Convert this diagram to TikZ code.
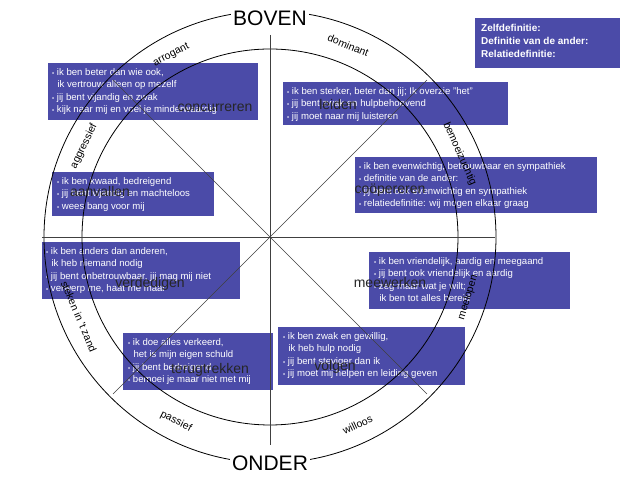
\documentclass[tikz,border=0pt]{standalone}
\usepackage{fontspec}
\setmainfont{Liberation Sans}
\usetikzlibrary{calc}
\newcommand{\bl}{{\fontsize{6}{6}\selectfont\textbullet}}
\begin{document}
\begin{tikzpicture}[x=1pt,y=1pt,
  box/.style={fill=boxblue,draw=none},
  btxt/.style={anchor=north west,text=white,font=\fontsize{9.6}{12.5}\selectfont,align=left,inner sep=0pt},
  inl/.style={text=black!85,font=\fontsize{14}{14}\selectfont,inner sep=0pt},
  arcl/.style={font=\fontsize{10.5}{10.5}\selectfont,inner sep=0pt},
  big/.style={fill=white,font=\fontsize{21}{21}\selectfont,inner sep=2pt}]
\definecolor{boxblue}{HTML}{4B4BA8}
\useasboundingbox (0,0) rectangle (638,478);
\coordinate (C) at (270,241);
% boxes
\fill[box] (48,415) rectangle (258,358);
\node[btxt] (b1) at (52,410) {\bl\ ik ben beter dan wie ook,\\\ \ ik vertrouw alleen op mezelf\\\bl\ jij bent vijandig en zwak\\\bl\ kijk naar mij en voel je minderwaardig};
\fill[box] (283,396) rectangle (508,353);
\node[btxt] (b2) at (287,391) {\bl\ ik ben sterker, beter dan jij; Ik overzie "het"\\\bl\ jij bent zwak en hulpbehoevend\\\bl\ jij moet naar mij luisteren};
\fill[box] (52,306) rectangle (214,262);
\node[btxt] (b3) at (57,301) {\bl\ ik ben kwaad, bedreigend\\\bl\ jij bent vijandig en machteloos\\\bl\ wees bang voor mij};
\fill[box] (355,321) rectangle (597,265);
\node[btxt] (b4) at (359,316) {\bl\ ik ben evenwichtig, betrouwbaar en sympathiek\\\bl\ definitie van de ander:\\\bl\ jij bent ook evenwichtig en sympathiek\\\bl\ relatiedefinitie: wij mogen elkaar graag};
\fill[box] (42,236) rectangle (240,179);
\node[btxt] (b5) at (46,231) {\bl\ ik ben anders dan anderen,\\\ \ ik heb niemand nodig\\\bl\ jij bent onbetrouwbaar, jij mag mij niet\\\bl\ verwerp me, haat me maar};
\fill[box] (123,145) rectangle (273,88);
\node[btxt] (b6) at (128,140) {\bl\ ik doe alles verkeerd,\\\ \ het is mijn eigen schuld\\\bl\ jij bent bedreigend\\\bl\ bemoei je maar niet met mij};
\fill[box] (278,151) rectangle (465,93);
\node[btxt] (b7) at (283,146) {\bl\ ik ben zwak en gewillig,\\\ \ ik heb hulp nodig\\\bl\ jij bent steviger dan ik\\\bl\ jij moet mij helpen en leiding geven};
\fill[box] (369,226) rectangle (570,169);
\node[btxt] (b8) at (374,221) {\bl\ ik ben vriendelijk, aardig en meegaand\\\bl\ jij bent ook vriendelijk en aardig\\\bl\ zeg maar wat je wilt;\\\ \ ik ben tot alles bereid};
\fill[box] (475,460) rectangle (620,410);
\node[btxt,font=\bfseries\fontsize{10}{13}\selectfont] (b9) at (481,454) {Zelfdefinitie:\\Definitie van de ander:\\Relatiedefinitie:};
% circles and lines
\draw[thick] (C) circle (226);
\draw[thick] (C) circle (188);
\draw[black!75,thin] (42,241) -- (495,241);
\draw[black!75,thin] (270,443) -- (270,33);
\foreach \a in {45,135,225,315} \draw[black!75,thin] (C) -- ++(\a:222);
\node[big] (boven) at (270,460) {BOVEN};
\node[big] (onder) at (270,15) {ONDER};
% inner labels
\node[inl] (l1) at (215,370) {concurreren};
\node[inl] (l2) at (338,373) {leiden};
\node[inl] (l3) at (100,286) {aanvallen};
\node[inl] (l4) at (390,288) {coöpereren};
\node[inl] (l5) at (150,194) {verdedigen};
\node[inl] (l6) at (210,108) {terugtrekken};
\node[inl] (l7) at (335,111) {volgen};
\node[inl] (l8) at (390,195) {meewerken};
% arc labels
\node[arcl,rotate=28] (a1) at ($(C)+(118.5:207)$) {arrogant};
\node[arcl,rotate=-22] (a2) at ($(C)+(67.8:207)$) {dominant};
\node[arcl,rotate=64] (a3) at ($(C)+(154:207)$) {aggressief};
\node[arcl,rotate=-66] (a4) at ($(C)+(23.6:207)$) {bemoeizuchtig};
\node[arcl,rotate=73] (a5) at ($(C)+(-17:207)$) {meelopen};
\node[arcl,rotate=-67] (a6) at ($(C)+(202.6:207)$) {steken in 't zand};
\node[arcl,rotate=-27] (a7) at ($(C)+(243:207)$) {passief};
\node[arcl,rotate=25] (a8) at ($(C)+(295:207)$) {willoos};
\end{tikzpicture}
\end{document}
